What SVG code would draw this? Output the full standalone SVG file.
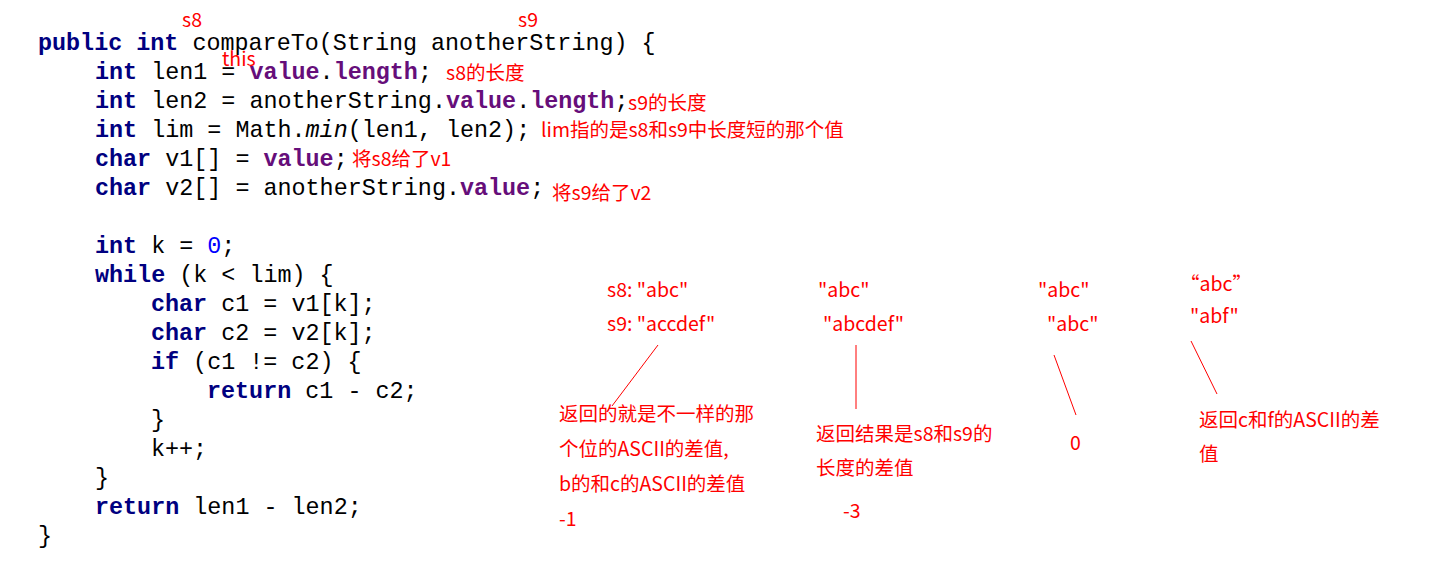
<svg xmlns="http://www.w3.org/2000/svg" width="1452" height="587" viewBox="0 0 1452 587">
<style>
.c{font-family:"Liberation Mono","DejaVu Sans Mono",monospace;font-size:23.4px;fill:#000;white-space:pre}
.k{fill:#000080;font-weight:bold}
.f{fill:#660e7a;font-weight:bold}
.n{fill:#0000ff}
.a{font-family:"Noto Sans CJK SC","Noto Sans",sans-serif;font-size:19.5px;fill:#ff0000;white-space:pre}
.l{stroke:#ff0000;stroke-width:1;fill:none}
</style>
<rect width="1452" height="587" fill="#fff"/>
<g id="code">
<text class="c" x="38" y="50" xml:space="preserve"><tspan class="k">public int</tspan> compareTo(String anotherString) {</text>
<text class="c" x="95" y="79" xml:space="preserve"><tspan class="k">int</tspan> len1 = <tspan class="f">value</tspan>.<tspan class="f">length</tspan>;</text>
<text class="c" x="95" y="108" xml:space="preserve"><tspan class="k">int</tspan> len2 = anotherString.<tspan class="f">value</tspan>.<tspan class="f">length</tspan>;</text>
<text class="c" x="95" y="137" xml:space="preserve"><tspan class="k">int</tspan> lim = Math.<tspan font-style="italic">min</tspan>(len1, len2);</text>
<text class="c" x="95" y="166" xml:space="preserve"><tspan class="k">char</tspan> v1[] = <tspan class="f">value</tspan>;</text>
<text class="c" x="95" y="195" xml:space="preserve"><tspan class="k">char</tspan> v2[] = anotherString.<tspan class="f">value</tspan>;</text>
<text class="c" x="95" y="253" xml:space="preserve"><tspan class="k">int</tspan> k = <tspan class="n">0</tspan>;</text>
<text class="c" x="95" y="282" xml:space="preserve"><tspan class="k">while</tspan> (k &lt; lim) {</text>
<text class="c" x="151" y="311" xml:space="preserve"><tspan class="k">char</tspan> c1 = v1[k];</text>
<text class="c" x="151" y="340" xml:space="preserve"><tspan class="k">char</tspan> c2 = v2[k];</text>
<text class="c" x="151" y="369" xml:space="preserve"><tspan class="k">if</tspan> (c1 != c2) {</text>
<text class="c" x="207" y="398" xml:space="preserve"><tspan class="k">return</tspan> c1 - c2;</text>
<text class="c" x="151" y="427">}</text>
<text class="c" x="151" y="456">k++;</text>
<text class="c" x="95" y="485">}</text>
<text class="c" x="95" y="514" xml:space="preserve"><tspan class="k">return</tspan> len1 - len2;</text>
<text class="c" x="38" y="543">}</text>
</g>
<g id="notes">
<text class="a" x="182" y="27">s8</text>
<text class="a" x="518" y="27">s9</text>
<text class="a" x="222" y="66" font-size="16">this</text>
<text class="a" x="446" y="80">s8的长度</text>
<text class="a" x="628" y="110">s9的长度</text>
<text class="a" x="541" y="137">lim指的是s8和s9中长度短的那个值</text>
<text class="a" x="352" y="166">将s8给了v1</text>
<text class="a" x="552" y="200">将s9给了v2</text>
</g>
<g id="case1">
<text class="a" x="607" y="297">s8: "abc"</text>
<text class="a" x="607" y="331">s9: "accdef"</text>
<text class="a" x="559" y="421">返回的就是不一样的那</text>
<text class="a" x="559" y="456">个位的ASCII的差值,</text>
<text class="a" x="559" y="491">b的和c的ASCII的差值</text>
<text class="a" x="559" y="526">-1</text>
</g>
<g id="case2">
<text class="a" x="818" y="297">"abc"</text>
<text class="a" x="823" y="331">"abcdef"</text>
<text class="a" x="816" y="441">返回结果是s8和s9的</text>
<text class="a" x="816" y="475">长度的差值</text>
<text class="a" x="843" y="518">-3</text>
</g>
<g id="case3">
<text class="a" x="1038" y="297">"abc"</text>
<text class="a" x="1047" y="331">"abc"</text>
<text class="a" x="1070" y="450">0</text>
</g>
<g id="case4">
<text class="a" x="1180" y="291">“abc”</text>
<text class="a" x="1190" y="323">"abf"</text>
<text class="a" x="1199" y="427">返回c和f的ASCII的差</text>
<text class="a" x="1199" y="461">值</text>
</g>
<g id="connectors">
<line class="l" x1="658" y1="345" x2="612" y2="406"/>
<line class="l" x1="856" y1="345" x2="856" y2="409"/>
<line class="l" x1="1054" y1="355" x2="1076" y2="415"/>
<line class="l" x1="1191" y1="341" x2="1217" y2="394"/>
</g>
</svg>
